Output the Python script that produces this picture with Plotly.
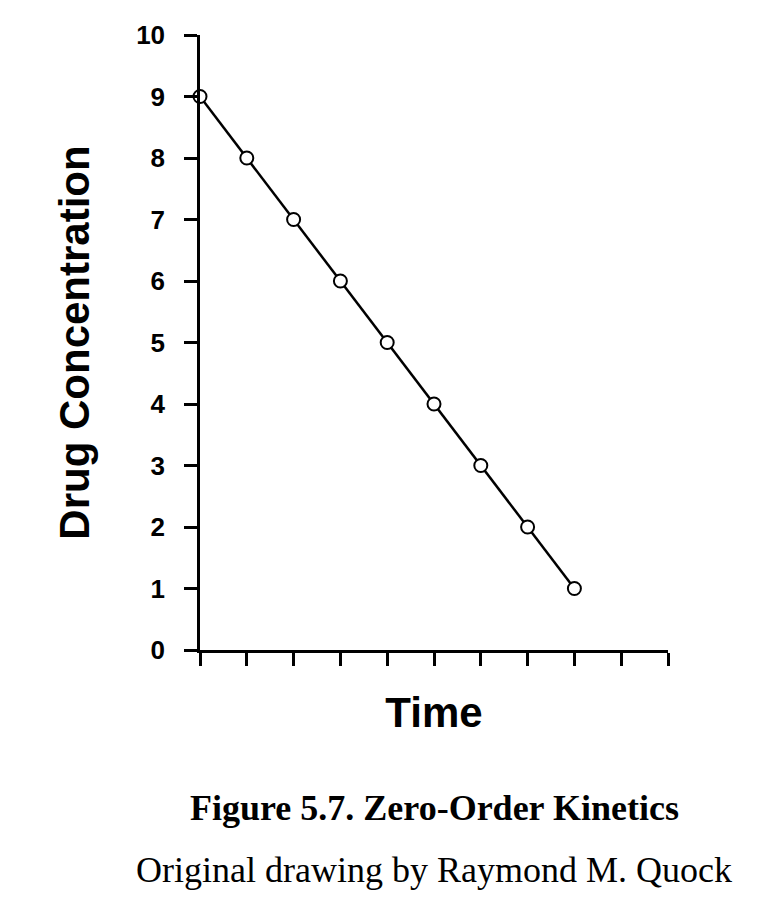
import plotly.graph_objects as go

# time points (arbitrary units) and drug concentration
time = [0, 1, 2, 3, 4, 5, 6, 7, 8]
concentration = [9, 8, 7, 6, 5, 4, 3, 2, 1]

y_ticks = [0, 1, 2, 3, 4, 5, 6, 7, 8, 9, 10]
x_ticks = [0, 1, 2, 3, 4, 5, 6, 7, 8, 9, 10]

SANS = 'Liberation Sans, Arial, sans-serif'
SERIF = 'Liberation Serif, Times New Roman, serif'

fig = go.Figure()
fig.add_trace(go.Scatter(
    x=time,
    y=concentration,
    mode='lines+markers',
    line=dict(color='black', width=2.5),
    marker=dict(symbol='circle', size=13, color='white',
                line=dict(color='black', width=2)),
    cliponaxis=False,
    showlegend=False,
))

fig.update_xaxes(
    range=[0, 10],
    tickvals=x_ticks,
    showticklabels=False,
    ticks='outside', ticklen=13, tickwidth=2.5, tickcolor='black',
    showline=True, linecolor='black', linewidth=2.5,
    showgrid=False, zeroline=False,
    title=dict(text='Time', font=dict(family=SANS, size=42, color='black', weight='bold'), standoff=33),
)
fig.update_yaxes(
    range=[0, 10],
    tickvals=y_ticks,
    ticks='outside', ticklen=13, tickwidth=2.5, tickcolor='black',
    tickfont=dict(family=SANS, size=26, color='black', weight='bold'),
    ticklabelstandoff=14,
    showline=True, linecolor='black', linewidth=2.5,
    showgrid=False, zeroline=False,
    title=dict(text='Drug Concentration', font=dict(family=SANS, size=42, color='black', weight='bold'), standoff=34),
)

# caption below the chart
fig.add_annotation(
    text='<b>Figure 5.7. Zero-Order Kinetics</b>',
    xref='paper', yref='paper', x=0.5, y=-0.257, yanchor='middle',
    showarrow=False,
    font=dict(family=SERIF, size=36, color='black'),
)
fig.add_annotation(
    text='Original drawing by Raymond M. Quock',
    xref='paper', yref='paper', x=0.5, y=-0.357, yanchor='middle',
    showarrow=False,
    font=dict(family=SERIF, size=36, color='black'),
)

# page body adds an 8px margin, so the figure is a bit smaller than the window
fig.update_layout(
    width=760, height=906,
    margin=dict(l=192, r=100, t=20, b=264),
    plot_bgcolor='white', paper_bgcolor='white',
)

fig.write_html("out.html")
